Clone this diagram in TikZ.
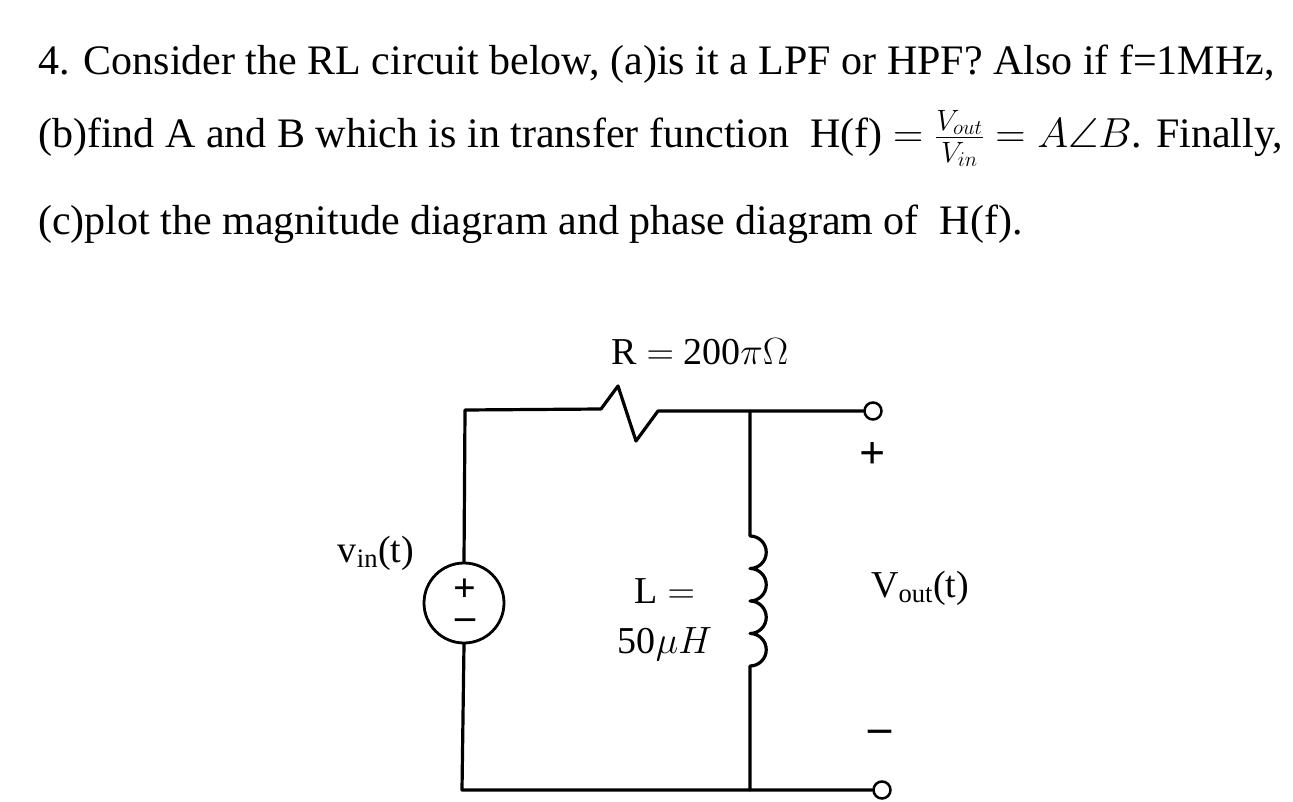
\RequirePackage{fix-cm}
\documentclass[tikz,border=0pt]{standalone}
\usepackage{amssymb}
\usepackage{fontspec}
\setmainfont{Liberation Serif}
\begin{document}
\begin{tikzpicture}[x=1pt,y=-1pt,wire/.style={line width=3.2pt,line cap=round,line join=round},
  txt/.style={anchor=base west,inner sep=0pt,font=\fontsize{42}{46}\selectfont},
  lab/.style={inner sep=0pt,font=\fontsize{38}{42}\selectfont}]
\useasboundingbox (0,0) rectangle (1293,802);
\node[txt] (l1) at (38,75) {4. Consider the RL circuit below, (a)is it a LPF or HPF? Also if f=1MHz,};
\node[txt] (l2) at (38,148) {(b)find A and B which is in transfer function\ \ H(f) $=\frac{V_{out}}{V_{in}}=A\angle B$. Finally,};
\node[txt] (l3) at (38,235) {(c)plot the magnitude diagram and phase diagram of\ \ H(f).};
% circuit
\coordinate (tl) at (465,410); \coordinate (bl) at (462,790);
\coordinate (r1) at (601,409); \coordinate (r2) at (658,411);
\coordinate (nt) at (750,411); \coordinate (nb) at (750,790);
\coordinate (l1t) at (750,536); \coordinate (l1b) at (750,666);
\node[draw,circle,line width=2.8pt,minimum size=80pt,inner sep=0pt] (src) at (464,603) {};
\node[font=\fontsize{40}{44}\selectfont\bfseries] (sp) at (465,590) {+};
\node[font=\fontsize{40}{44}\selectfont\bfseries] (sm) at (465,624) {--};
\node[draw,circle,line width=2.5pt,minimum size=17pt,inner sep=0pt] (ot) at (873,411) {};
\node[draw,circle,line width=2.5pt,minimum size=17pt,inner sep=0pt] (ob) at (882,790) {};
\draw[wire] (src.north) -- (tl) -- (r1) -- (618,386) -- (636,441) -- (r2) -- (nt) -- (ot.west);
\draw[wire] (src.south) -- (bl) -- (nb) -- (ob.west);
\draw[wire] (nt) -- (l1t) arc[start angle=-90,end angle=90,radius=16.25] arc[start angle=-90,end angle=90,radius=16.25] arc[start angle=-90,end angle=90,radius=16.25] arc[start angle=-90,end angle=90,radius=16.25] -- (nb);
\node[font=\fontsize{46}{50}\selectfont\bfseries] (pl) at (873,456) {+};
\node[font=\fontsize{46}{50}\selectfont\bfseries] (mi) at (880,736) {--};
\node[lab] (rl) at (700,352) {R $=$ 200$\pi\Omega$};
\node[lab] (vin) at (376,553) {v$_{\mathrm{in}}$(t)};
\node[lab] (vout) at (920,588) {V$_{\mathrm{out}}$(t)};
\node[lab,align=center] (ll) at (665,620) {L $=$\\[8pt]50$\mu H$};
\end{tikzpicture}
\end{document}
